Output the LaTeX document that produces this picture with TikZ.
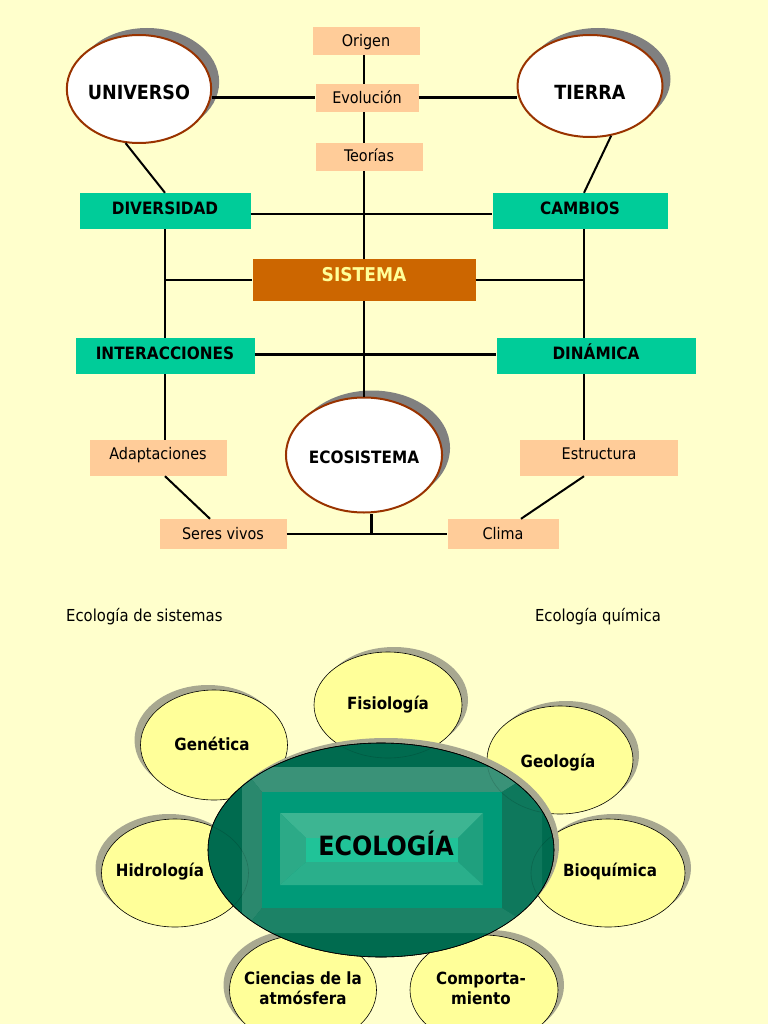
\documentclass[tikz,border=0pt]{standalone}
\usepackage{fontspec}
\setmainfont{DejaVu Sans Condensed}
\usetikzlibrary{shapes.geometric,shadows}
\definecolor{bg}{HTML}{FFFFCC}
\definecolor{peach}{HTML}{FFCC99}
\definecolor{teal1}{HTML}{00CC99}
\definecolor{rust}{HTML}{CC6600}
\definecolor{paleyel}{HTML}{FFFF99}
\definecolor{brownb}{HTML}{993300}
\definecolor{petalshadow}{HTML}{A8A890}
\definecolor{ecobase}{HTML}{006B4F}
\definecolor{bvA}{HTML}{3A9278}
\definecolor{bvB}{HTML}{2A886D}
\definecolor{bvC}{HTML}{0E785C}
\definecolor{bvD}{HTML}{1C8266}
\definecolor{bvE}{HTML}{009A78}
\definecolor{bvF}{HTML}{3DB592}
\definecolor{bvG}{HTML}{2CAA87}
\definecolor{bvH}{HTML}{1FA07E}
\definecolor{bvI}{HTML}{2AAF8B}
\definecolor{bvJ}{HTML}{20C398}
\tikzset{
  lbl/.style={font=\fontsize{16}{18}\selectfont, inner sep=0pt},
  peachbox/.style={fill=peach, font=\fontsize{16}{18}\selectfont, inner sep=0pt, text height=12pt},
  greenbox/.style={fill=teal1, font=\bfseries\fontsize{17}{19}\selectfont, inner sep=0pt, text height=12.5pt},
  bigell/.style={ellipse, draw=brownb, line width=2pt, fill=white, inner sep=0pt,
    font=\bfseries\fontsize{19.5}{22}\selectfont, text depth=0pt,
    drop shadow={shadow xshift=8pt, shadow yshift=7pt, fill=gray, opacity=1}},
  petalL/.style={ellipse, draw=black, line width=0.6pt, fill=paleyel, inner sep=0pt,
    drop shadow={shadow xshift=-6pt, shadow yshift=5pt, fill=petalshadow, opacity=1}},
  petalR/.style={ellipse, draw=black, line width=0.6pt, fill=paleyel, inner sep=0pt,
    drop shadow={shadow xshift=6pt, shadow yshift=5pt, fill=petalshadow, opacity=1}},
  ptxt/.style={font=\bfseries\fontsize{16.8}{20}\selectfont, align=center, inner sep=0pt},
  conn/.style={line width=2pt},
  thick conn/.style={line width=3pt},
}
\begin{document}
\begin{tikzpicture}[x=1pt,y=-1pt]
\fill[bg] (0,0) rectangle (768,1024);
\useasboundingbox (0,0) rectangle (768,1024);

% ---------- top concept map ----------
\node[peachbox, text depth=1.3pt, minimum width=107pt, minimum height=28pt] (org) at (366,41) {Origen};
\node[peachbox, text depth=1.3pt, minimum width=103pt, minimum height=28pt] (evo) at (367,98) {Evolución};
\node[peachbox, text depth=2.3pt, minimum width=107pt, minimum height=28pt] (teo) at (369,157) {Teorías};

\node[bigell, text height=20.2pt, minimum width=144pt, minimum height=108pt] (uni) at (139,89) {UNIVERSO};
\node[bigell, text height=27.2pt, minimum width=145pt, minimum height=102pt] (tie) at (590,86) {TIERRA};

\node[greenbox, text depth=6.1pt, minimum width=171pt, minimum height=36pt] (div) at (165,211) {DIVERSIDAD};
\node[greenbox, text depth=6.1pt, minimum width=175pt, minimum height=36pt] (cam) at (580,211) {CAMBIOS};
\node[fill=rust, text=paleyel, font=\bfseries\fontsize{19}{21}\selectfont, inner sep=0pt,
      text height=14pt, text depth=11.1pt,
      minimum width=223pt, minimum height=42pt] (sis) at (364,280) {SISTEMA};
\node[greenbox, text depth=5.1pt, minimum width=179pt, minimum height=36pt] (int) at (165,356) {INTERACCIONES};
\node[greenbox, text depth=5.1pt, minimum width=199pt, minimum height=36pt] (din) at (596,356) {DINÁMICA};

\node[bigell, font=\bfseries\fontsize{17}{19}\selectfont, text height=16.4pt,
      minimum width=152pt, minimum height=115pt] (eco) at (364,455) {ECOSISTEMA};

\node[peachbox, text depth=8.3pt, minimum width=137pt, minimum height=36pt] (ada) at (158,458) {Adaptaciones};
\node[peachbox, text depth=8.3pt, minimum width=158pt, minimum height=36pt] (est) at (599,458) {Estructura};
\node[peachbox, text depth=0.3pt, minimum width=127pt, minimum height=30pt] (ser) at (223,534) {Seres vivos};
\node[peachbox, text depth=0.3pt, minimum width=111pt, minimum height=30pt] (cli) at (503,534) {Clima};

\coordinate (rc) at (584,0);

% connectors
\draw[conn] (org.south -| sis.north) -- (evo.north -| sis.north);
\draw[conn] (evo.south -| sis.north) -- (teo.north -| sis.north);
\draw[conn] (teo.south -| sis.north) -- (sis.north);
\draw[thick conn] (uni.east |- evo) -- (evo.west);
\draw[thick conn] (evo.east) -- (tie.west |- evo);
\draw[conn] (uni.256) -- (div.north);
\draw[conn] (tie.293) -- (cam.north -| rc);
\draw[conn] ([yshift=-3pt]div.east) -- ([yshift=-3pt]cam.west);
\draw[conn] (div.south) -- (int.north);
\draw[conn] (cam.south -| rc) -- (din.north -| rc);
\draw[conn] (sis.west) -- (sis.west -| div.south);
\draw[conn] (sis.east) -- (sis.east -| rc);
\draw[thick conn] ([yshift=2pt]int.east) -- ([yshift=2pt]din.west);
\draw[conn] (sis.south) -- (eco.north);
\draw[conn] (int.south) -- (int.south |- ada.north);
\draw[conn] (din.south -| rc) -- (est.north -| rc);
\draw[conn] (ada.south -| int.south) -- ([xshift=-13pt]ser.north);
\draw[conn] (est.south -| rc) -- ([xshift=18pt]cli.north);
\draw[conn] (ser.east) -- (cli.west);
\draw[thick conn] ([xshift=7pt]eco.south) -- ([xshift=7pt]eco.south |- ser.east);

% ---------- captions ----------
\node[lbl, font=\fontsize{16.5}{18}\selectfont, anchor=west] (cap1) at (66,617) {Ecología de sistemas};
\node[lbl, font=\fontsize{16.5}{18}\selectfont] (cap2) at (598,617) {Ecología química};

% ---------- flower ----------
\node[petalR, minimum width=148pt, minimum height=106pt] (fis) at (388,705) {};
\node[petalL, minimum width=147pt, minimum height=110pt] (gen) at (214,745) {};
\node[petalR, minimum width=146pt, minimum height=108pt] (geo) at (560,760) {};
\node[petalL, minimum width=147pt, minimum height=108pt] (hid) at (175,873) {};
\node[petalR, minimum width=154pt, minimum height=108pt] (bio) at (608,873) {};
\node[petalL, minimum width=147pt, minimum height=110pt] (cie) at (303,990) {};
\node[petalR, minimum width=148pt, minimum height=110pt] (com) at (484,990) {};

\node[ellipse, draw=black, line width=0.6pt, fill=ecobase, inner sep=0pt,
      minimum width=346pt, minimum height=214pt,
      drop shadow={shadow xshift=5pt, shadow yshift=5pt, fill=petalshadow, opacity=1}] (ecol) at (381,850) {};
\begin{scope}
  \clip (381,850) ellipse [x radius=172.5, y radius=106.5];
  % outer bevel
  \fill[bvA] (242,767) -- (542,767) -- (502,792) -- (262,792) -- cycle;
  \fill[bvB] (242,767) -- (262,792) -- (262,908) -- (242,933) -- cycle;
  \fill[bvC] (542,767) -- (542,933) -- (502,908) -- (502,792) -- cycle;
  \fill[bvD] (242,933) -- (542,933) -- (502,908) -- (262,908) -- cycle;
  \fill[bvE] (262,792) rectangle (502,908);
  % inner bevel
  \fill[bvF] (280,813) -- (483,813) -- (458,838) -- (306,838) -- cycle;
  \fill[bvG] (280,813) -- (306,838) -- (306,862) -- (280,885) -- cycle;
  \fill[bvH] (483,813) -- (483,885) -- (458,862) -- (458,838) -- cycle;
  \fill[bvI] (280,885) -- (483,885) -- (458,862) -- (306,862) -- cycle;
  \fill[bvJ] (306,838) rectangle (458,862);
  % faint outlines of petals behind
  \draw[black, opacity=0.15, line width=0.6pt] (fis.center) ellipse [x radius=74, y radius=53];
  \draw[black, opacity=0.15, line width=0.6pt] (hid.center) ellipse [x radius=73.5, y radius=54];
  \draw[black, opacity=0.15, line width=0.6pt] (geo.center) ellipse [x radius=73, y radius=54];
  \draw[black, opacity=0.15, line width=0.6pt] (bio.center) ellipse [x radius=77, y radius=54];
\end{scope}
\draw[black, line width=0.6pt] (381,850) ellipse [x radius=173, y radius=107];
\node[font=\bfseries\fontsize{26.5}{30}\selectfont, inner sep=0pt] (ecot) at (386,843) {ECOLOGÍA};

\node[ptxt] (fist) at (388,705) {Fisiología};
\node[ptxt] (gent) at (212,744) {Genética};
\node[ptxt] (geot) at (558,763) {Geología};
\node[ptxt] (hidt) at (160,872) {Hidrología};
\node[ptxt] (biot) at (610,872) {Bioquímica};
\node[ptxt] (ciet) at (303,988) {Ciencias de la\\atmósfera};
\node[ptxt] (comt) at (481,988) {Comporta-\\miento};
\end{tikzpicture}
\end{document}
